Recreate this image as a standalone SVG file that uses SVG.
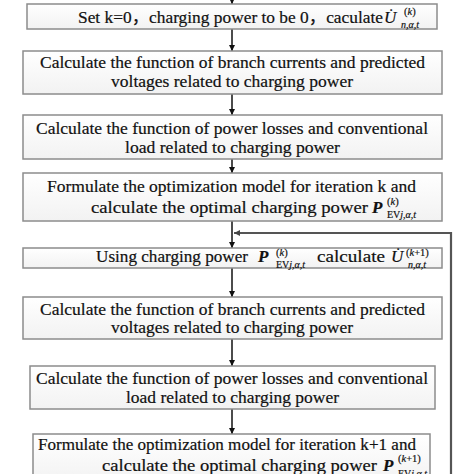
<svg xmlns="http://www.w3.org/2000/svg" width="474" height="474" viewBox="0 0 474 474">
<defs>
<linearGradient id="bg" x1="0" y1="0" x2="0" y2="1">
<stop offset="0" stop-color="#ffffff"/>
<stop offset="1" stop-color="#f2f2f2"/>
</linearGradient>
<marker id="ah" viewBox="0 0 10 10" refX="10" refY="5" markerWidth="6" markerHeight="7" markerUnits="userSpaceOnUse" orient="auto">
<path d="M0,0 L10,5 L0,10 Z" fill="#111"/>
</marker>
<marker id="ahg" viewBox="0 0 10 10" refX="10" refY="5" markerWidth="7" markerHeight="6" markerUnits="userSpaceOnUse" orient="auto">
<path d="M0,0 L10,5 L0,10 Z" fill="#444"/>
</marker>
</defs>
<style>
.box{fill:url(#bg);stroke:#8c8c8c;stroke-width:1.5}
text{font-family:"Liberation Serif","Times New Roman","Noto Sans CJK SC",serif;font-size:16.5px;fill:#111;stroke:#111;stroke-width:0.2}
.m{font-style:italic;font-size:17px}
.pb{font-style:italic;font-weight:bold;font-size:17px}
.sup{font-size:10.5px}
.sub{font-size:10px;font-style:italic}
.it{font-style:italic}
.up{font-style:normal}
.c{stroke:#111;stroke-width:1.5;fill:none}
.fb{stroke:#555;stroke-width:2.2;fill:none}
</style>
<g id="connectors">
<line class="c" x1="232" y1="0" x2="232" y2="4" marker-end="url(#ah)"/>
<line class="c" x1="232" y1="29" x2="232" y2="51" marker-end="url(#ah)"/>
<line class="c" x1="232" y1="94" x2="232" y2="115" marker-end="url(#ah)"/>
<line class="c" x1="232" y1="159" x2="232" y2="173" marker-end="url(#ah)"/>
<line class="c" x1="232" y1="221" x2="232" y2="248" marker-end="url(#ah)"/>
<line class="c" x1="232" y1="268" x2="232" y2="297" marker-end="url(#ah)"/>
<line class="c" x1="232" y1="339" x2="232" y2="366" marker-end="url(#ah)"/>
<line class="c" x1="232" y1="409" x2="232" y2="434" marker-end="url(#ah)"/>
<polyline class="fb" points="451,474 451,233 234,233" marker-end="url(#ahg)"/>
</g>
<g id="n1">
<rect class="box" x="27" y="4" width="410" height="25"/>
<text x="78" y="22.5" textLength="305" lengthAdjust="spacingAndGlyphs">Set k=0，charging power to be 0，caculate</text>
<text class="m" x="384" y="23">U&#775;</text>
<text class="sup" x="404" y="15">(<tspan class="it">k</tspan>)</text>
<text class="sub" x="401" y="28">n,α,t</text>
</g>
<g id="n2">
<rect class="box" x="23" y="51" width="419" height="43"/>
<text x="40" y="68" textLength="385" lengthAdjust="spacingAndGlyphs">Calculate the function of branch currents and predicted</text>
<text x="111" y="86.5" textLength="242" lengthAdjust="spacingAndGlyphs">voltages related to charging power</text>
</g>
<g id="n3">
<rect class="box" x="23" y="115" width="419" height="44"/>
<text x="36" y="133.5" textLength="392" lengthAdjust="spacingAndGlyphs">Calculate the function of power losses and conventional</text>
<text x="125" y="152.5" textLength="215" lengthAdjust="spacingAndGlyphs">load related to charging power</text>
</g>
<g id="n4">
<rect class="box" x="23" y="173" width="419" height="48"/>
<text x="47" y="192" textLength="369" lengthAdjust="spacingAndGlyphs">Formulate the optimization model for iteration k and</text>
<text x="91" y="212.5" textLength="277" lengthAdjust="spacingAndGlyphs">calculate the optimal charging power</text>
<text class="pb" x="372" y="212.5">P</text>
<text class="sup" x="387" y="205">(<tspan class="it">k</tspan>)</text>
<text class="sub" x="387" y="218"><tspan class="up">EV</tspan>j,α,t</text>
</g>
<g id="n5">
<rect class="box" x="23" y="248" width="419" height="20"/>
<text x="96" y="262" textLength="152" lengthAdjust="spacingAndGlyphs">Using charging power</text>
<text class="pb" x="258" y="262">P</text>
<text class="sup" x="276" y="256">(<tspan class="it">k</tspan>)</text>
<text class="sub" x="276" y="268"><tspan class="up">EV</tspan>j,α,t</text>
<text x="317" y="262" textLength="68" lengthAdjust="spacingAndGlyphs">calculate</text>
<text class="m" x="391" y="262">U&#775;</text>
<text class="sup" x="406" y="256">(<tspan class="it">k</tspan>+1)</text>
<text class="sub" x="408" y="268">n,α,t</text>
</g>
<g id="n6">
<rect class="box" x="23" y="297" width="419" height="42"/>
<text x="40" y="315" textLength="385" lengthAdjust="spacingAndGlyphs">Calculate the function of branch currents and predicted</text>
<text x="111" y="333" textLength="242" lengthAdjust="spacingAndGlyphs">voltages related to charging power</text>
</g>
<g id="n7">
<rect class="box" x="30" y="366" width="405" height="43"/>
<text x="36" y="383.5" textLength="392" lengthAdjust="spacingAndGlyphs">Calculate the function of power losses and conventional</text>
<text x="126" y="403" textLength="213" lengthAdjust="spacingAndGlyphs">load related to charging power</text>
</g>
<g id="n8">
<rect class="box" x="33" y="434" width="397" height="50"/>
<text x="38" y="449.5" textLength="378" lengthAdjust="spacingAndGlyphs">Formulate the optimization model for iteration k+1 and</text>
<text x="102" y="470.5" textLength="275" lengthAdjust="spacingAndGlyphs">calculate the optimal charging power</text>
<text class="pb" x="383" y="470.5">P</text>
<text class="sup" x="398" y="462">(<tspan class="it">k</tspan>+1)</text>
<text class="sub" x="398" y="477"><tspan class="up">EV</tspan>j,α,t</text>
</g>
</svg>
